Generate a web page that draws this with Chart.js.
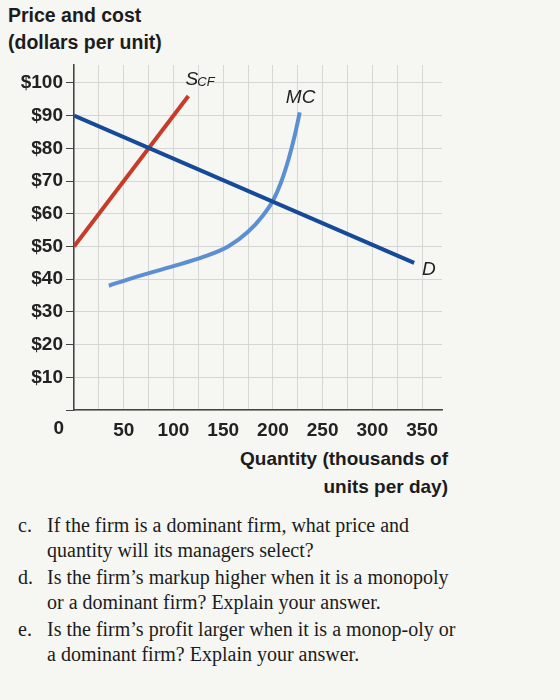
<!DOCTYPE html>
<html>
<head>
<meta charset="UTF-8">
<script src="https://cdn.jsdelivr.net/npm/chart.js"></script>
<style>
    * { margin: 0; padding: 0; box-sizing: border-box; }
    body { width: 560px; height: 700px; background: #f6f6f3; position: relative; overflow: hidden;
           font-family: 'Liberation Sans', Arial, sans-serif; color: #1c1c1c; }
    .ytitle { position: absolute; left: 8px; top: 2px; font-weight: bold; font-size: 19.5px; line-height: 27px; }
    .xtitle { position: absolute; left: 180px; width: 268px; top: 445px; font-weight: bold; font-size: 19px;
              line-height: 28px; text-align: right; }
    #wrap { position: absolute; left: 0; top: 0; width: 560px; height: 440px; }
    .qs { position: absolute; left: 18px; top: 513px; width: 445px; font-family: 'Liberation Serif', serif;
          font-size: 20px; line-height: 25px; }
    .q { display: flex; margin-bottom: 2px; }
    .q span.l { width: 29px; flex: none; }
</style>
</head>
<body>
<div class="ytitle">Price and cost<br>(dollars per unit)</div>
<div id="wrap"><canvas id="c" width="560" height="440"></canvas></div>
<div class="xtitle">Quantity (thousands of<br>units per day)</div>
<div class="qs">
    <div class="q"><span class="l">c.</span><span>If the firm is a dominant firm, what price and quantity will its managers select?</span></div>
    <div class="q"><span class="l">d.</span><span>Is the firm’s markup higher when it is a monopoly or a dominant firm? Explain your answer.</span></div>
    <div class="q"><span class="l">e.</span><span>Is the firm’s profit larger when it is a monop-oly or a dominant firm? Explain your answer.</span></div>
</div>
<script>
    // data
    const demandQ = [0, 342];
    const demandP = [90, 45];
    const scfQ = [0, 115];
    const scfP = [50, 96];
    const mcQ = [35, 60, 100, 130, 155, 175, 190, 200, 208, 216, 222, 227];
    const mcP = [38, 40.5, 44, 46.8, 50, 54.5, 59.5, 64, 69.5, 77, 84, 91];
    const xTicks = [0, 25, 50, 75, 100, 125, 150, 175, 200, 225, 250, 275, 300, 325, 350];
    const yTicks = [0, 10, 20, 30, 40, 50, 60, 70, 80, 90, 100];

    const pts = (q, p) => q.map((v, i) => ({ x: v, y: p[i] }));
    const font = { family: "'Liberation Sans', Arial, sans-serif", size: 19, weight: 'bold' };

    const labels = {
        id: 'labels',
        afterDatasetsDraw(chart) {
            const { ctx, scales: { x, y } } = chart;
            ctx.save();
            ctx.fillStyle = '#222';
            ctx.font = "bold 19px 'Liberation Sans', Arial";
            ctx.textAlign = 'right';
            ctx.textBaseline = 'middle';
            ctx.fillText('0', x.getPixelForValue(0) - 10, 429);
            ctx.textAlign = 'left';
            ctx.font = "italic 19px 'Liberation Sans', Arial";
            ctx.fillText('S', x.getPixelForValue(112), y.getPixelForValue(101));
            ctx.font = "italic 13px 'Liberation Sans', Arial";
            ctx.fillText('CF', x.getPixelForValue(124), y.getPixelForValue(100.2));
            ctx.font = "italic 19px 'Liberation Sans', Arial";
            ctx.fillText('MC', x.getPixelForValue(213), y.getPixelForValue(95.5));
            ctx.fillText('D', x.getPixelForValue(350), y.getPixelForValue(43));
            ctx.restore();
        }
    };

    new Chart(document.getElementById('c'), {
        type: 'scatter',
        data: {
            datasets: [
                { data: pts(demandQ, demandP), showLine: true, borderColor: '#164a98', borderWidth: 4, pointRadius: 0 },
                { data: pts(scfQ, scfP), showLine: true, borderColor: '#c53d28', borderWidth: 4, pointRadius: 0 },
                { data: pts(mcQ, mcP), showLine: true, borderColor: '#5c8fd2', borderWidth: 4, pointRadius: 0,
                  cubicInterpolationMode: 'monotone' }
            ]
        },
        options: {
            responsive: false,
            animation: false,
            layout: { padding: { top: 65, right: 118, bottom: 0, left: 0 } },
            plugins: { legend: { display: false }, tooltip: { enabled: false } },
            scales: {
                x: {
                    type: 'linear', min: 0, max: 370,
                    afterBuildTicks: s => { s.ticks = xTicks.map(v => ({ value: v })); },
                    afterFit: s => { s.height = 30; },
                    grid: { color: '#d6d6d2', drawTicks: false },
                    border: { color: '#444', width: 1.5 },
                    ticks: { color: '#222', font, padding: 9, maxRotation: 0, autoSkip: false,
                             callback: v => (v > 0 && v % 50 === 0) ? v : '' }
                },
                y: {
                    min: 0, max: 105.5,
                    afterBuildTicks: s => { s.ticks = yTicks.map(v => ({ value: v })); },
                    afterFit: s => { s.width = 74; },
                    grid: { color: '#d6d6d2', tickLength: 8, tickColor: '#444' },
                    border: { color: '#444', width: 1.5 },
                    ticks: { color: '#222', font, padding: 3, callback: v => v > 0 ? '$' + v : '' }
                }
            }
        },
        plugins: [labels]
    });
</script>
</body>
</html>
